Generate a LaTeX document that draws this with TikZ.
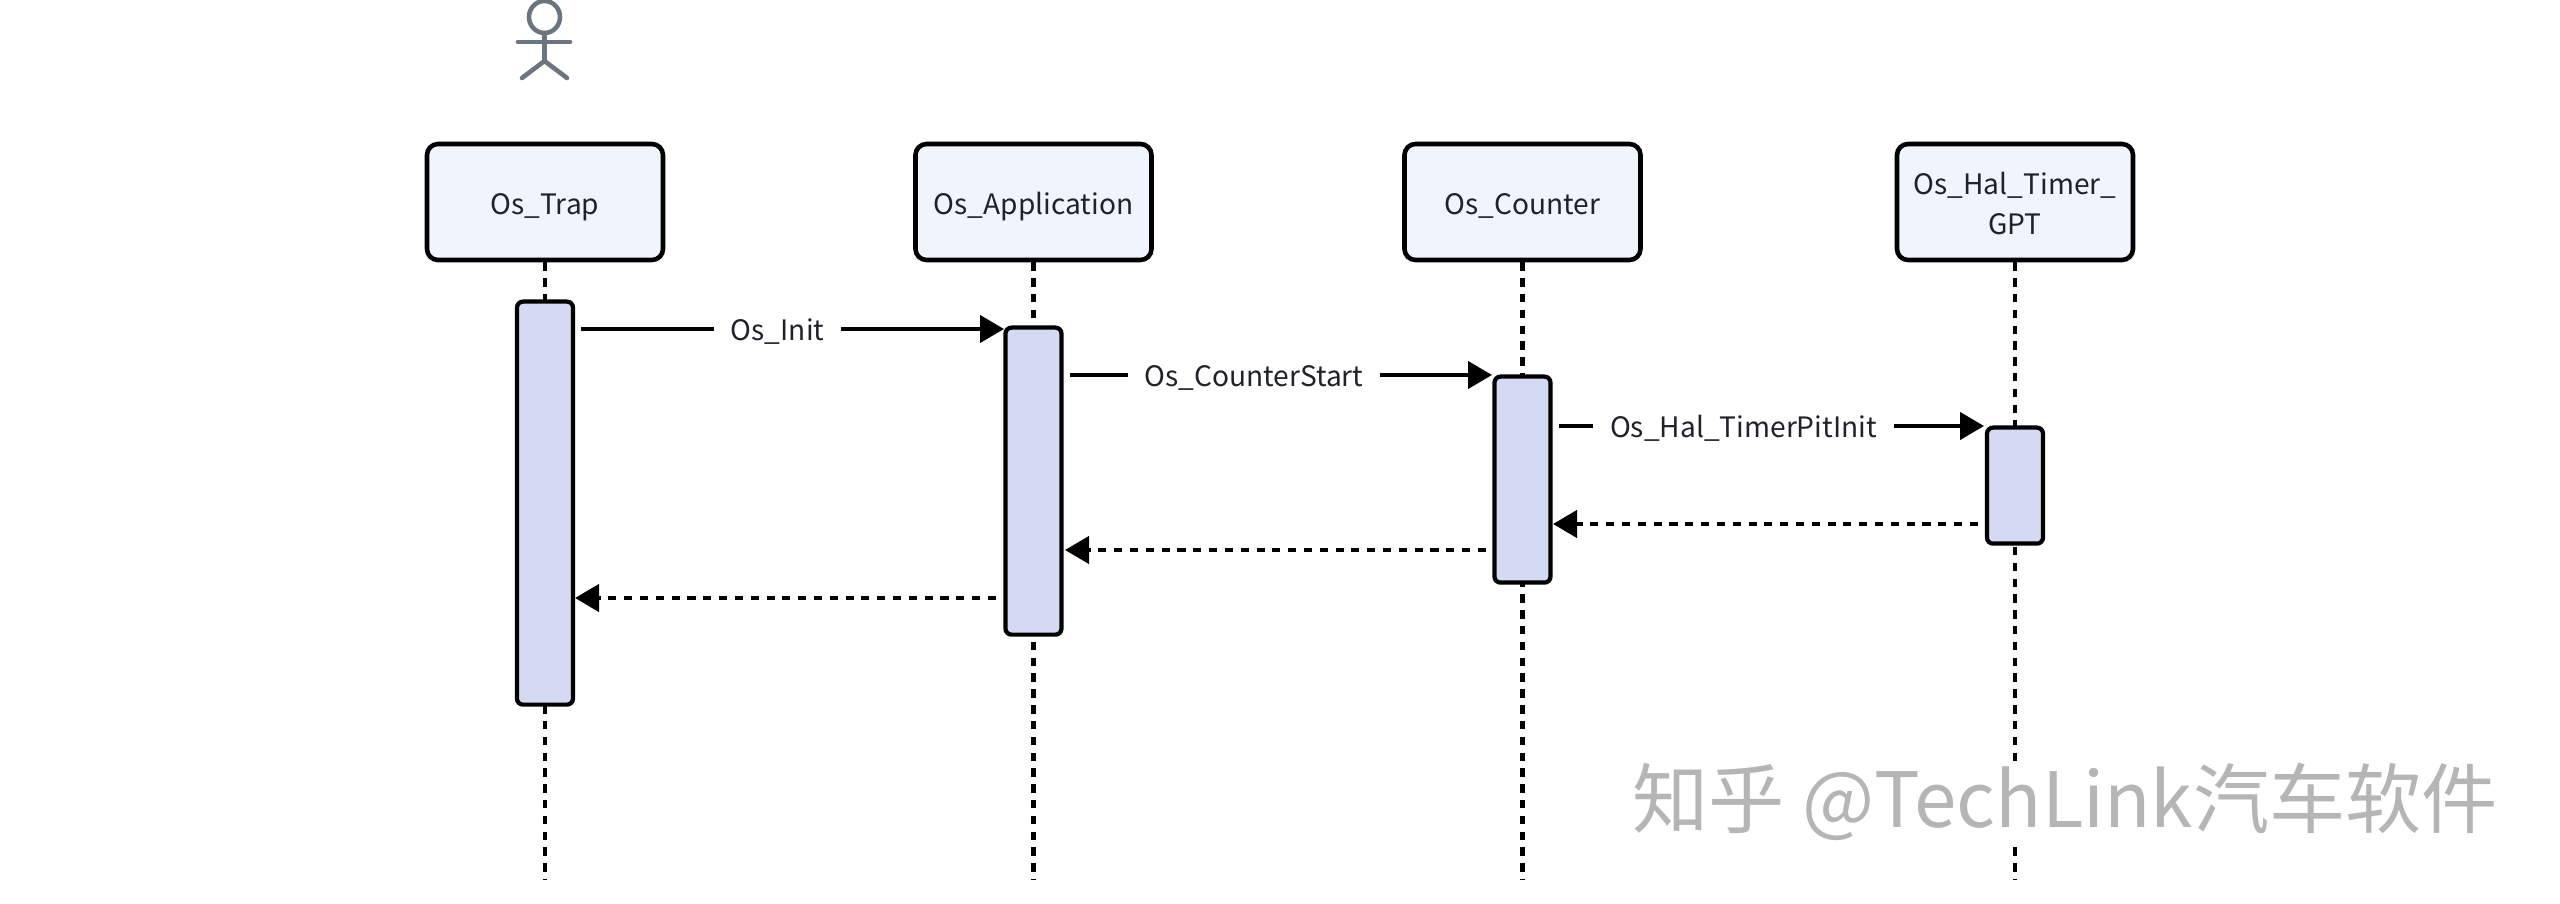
\documentclass[tikz,border=0pt]{standalone}
\usepackage{fontspec}
\setmainfont{Noto Sans CJK SC}
\newfontfamily\cjk{Noto Sans CJK SC}
\usetikzlibrary{arrows.meta}
\definecolor{boxfill}{HTML}{EFF4FD}
\definecolor{barfill}{HTML}{D4DAF3}
\definecolor{actorgray}{HTML}{6B7580}
\definecolor{inktext}{HTML}{1F2329}
\definecolor{markgray}{HTML}{B5B5B5}
\tikzset{
  party/.style={draw=black, fill=boxfill, line width=1.3pt, rounded corners=1.1mm, minimum width=2.36cm, minimum height=1.16cm, align=center, text=inktext, font=\fontsize{8}{11.4}\selectfont},
  oneline/.style={text height=9pt, text depth=2pt},
  bar/.style={draw=black, fill=barfill, line width=1.2pt, rounded corners=.6mm, minimum width=.56cm, anchor=north, inner sep=0pt},
  lifeline/.style={black, line width=1.2pt, dash pattern=on 2.4pt off 2.1pt},
  call/.style={black, line width=1.2pt, -{Triangle[length=.24cm,width=.27cm]}},
  back/.style={black, line width=1.2pt, dash pattern=on 2.3pt off 2.2pt, -{Triangle[length=.24cm,width=.27cm]}},
  calltext/.style={fill=white, text=inktext, inner xsep=.17cm, inner ysep=1pt, text height=8.7pt, text depth=2pt, font=\fontsize{8}{11.4}\selectfont}
}
\begin{document}
\begin{tikzpicture}
    \useasboundingbox (0, 0) rectangle (25.6, -9.04);
    % Define actor
    \begin{scope}[actorgray, line width=1.3pt, line cap=round]
        \draw (5.445, -0.17) ellipse (0.155 and 0.16);
        \draw (5.445, -0.33) -- (5.445, -0.61);
        \draw (5.18, -0.42) -- (5.70, -0.42);
        \draw (5.22, -0.78) -- (5.445, -0.61) -- (5.67, -0.78);
    \end{scope}
    % Define participants
    \node[party, oneline] (trap) at (5.45, -2.02) {Os\_Trap};
    \node[party, oneline] (app) at (10.335, -2.02) {Os\_Application};
    \node[party, oneline] (counter) at (15.225, -2.02) {Os\_Counter};
    \node[party, text height=19pt, text depth=.5pt] (hal) at (20.15, -2.02) {Os\_Hal\_Timer\_\\GPT};
    % Lifeline ends
    \coordinate (trapend) at (5.45, -8.80);
    \coordinate (append) at (10.335, -8.80);
    \coordinate (counterend) at (15.225, -8.80);
    \coordinate (halend) at (20.15, -8.80);
    % Draw lifelines
    \draw[lifeline] (trap) -- (trapend);
    \draw[lifeline] (app) -- (append);
    \draw[lifeline] (counter) -- (counterend);
    \draw[lifeline] (hal) -- (halend);
    % Define activation bars
    \node[bar, minimum height=4.03cm] (trapbar) at (5.45, -2.995) {};
    \node[bar, minimum height=3.07cm] (appbar) at (10.335, -3.255) {};
    \node[bar, minimum height=2.06cm] (counterbar) at (15.225, -3.745) {};
    \node[bar, minimum height=1.16cm] (halbar) at (20.15, -4.255) {};
    % Message ends
    \coordinate (initfrom) at (5.81, -3.29);
    \coordinate (initto) at (10.04, -3.29);
    \coordinate (startfrom) at (10.70, -3.75);
    \coordinate (startto) at (14.92, -3.75);
    \coordinate (pitfrom) at (15.59, -4.26);
    \coordinate (pitto) at (19.84, -4.26);
    \coordinate (halfrom) at (19.78, -5.24);
    \coordinate (halto) at (15.53, -5.24);
    \coordinate (counterfrom) at (14.86, -5.50);
    \coordinate (counterto) at (10.65, -5.50);
    \coordinate (appfrom) at (9.96, -5.98);
    \coordinate (appto) at (5.75, -5.98);
    % Draw messages
    \draw[call] (initfrom) -- node[calltext, pos=0.465] (inittext) {Os\_Init} (initto);
    \draw[call] (startfrom) -- node[calltext, pos=0.436] (starttext) {Os\_CounterStart} (startto);
    \draw[call] (pitfrom) -- node[calltext, pos=0.434] (pittext) {Os\_Hal\_TimerPitInit} (pitto);
    \draw[back] (halfrom) -- (halto);
    \draw[back] (counterfrom) -- (counterto);
    \draw[back] (appfrom) -- (appto);
    % Watermark
    \node[fill=white, text=markgray, inner sep=0pt, anchor=west, font=\fontsize{21.7}{21.7}\selectfont\cjk] (mark) at (16.32, -8.02) {知乎 @TechLink汽车软件};
\end{tikzpicture}
\end{document}
